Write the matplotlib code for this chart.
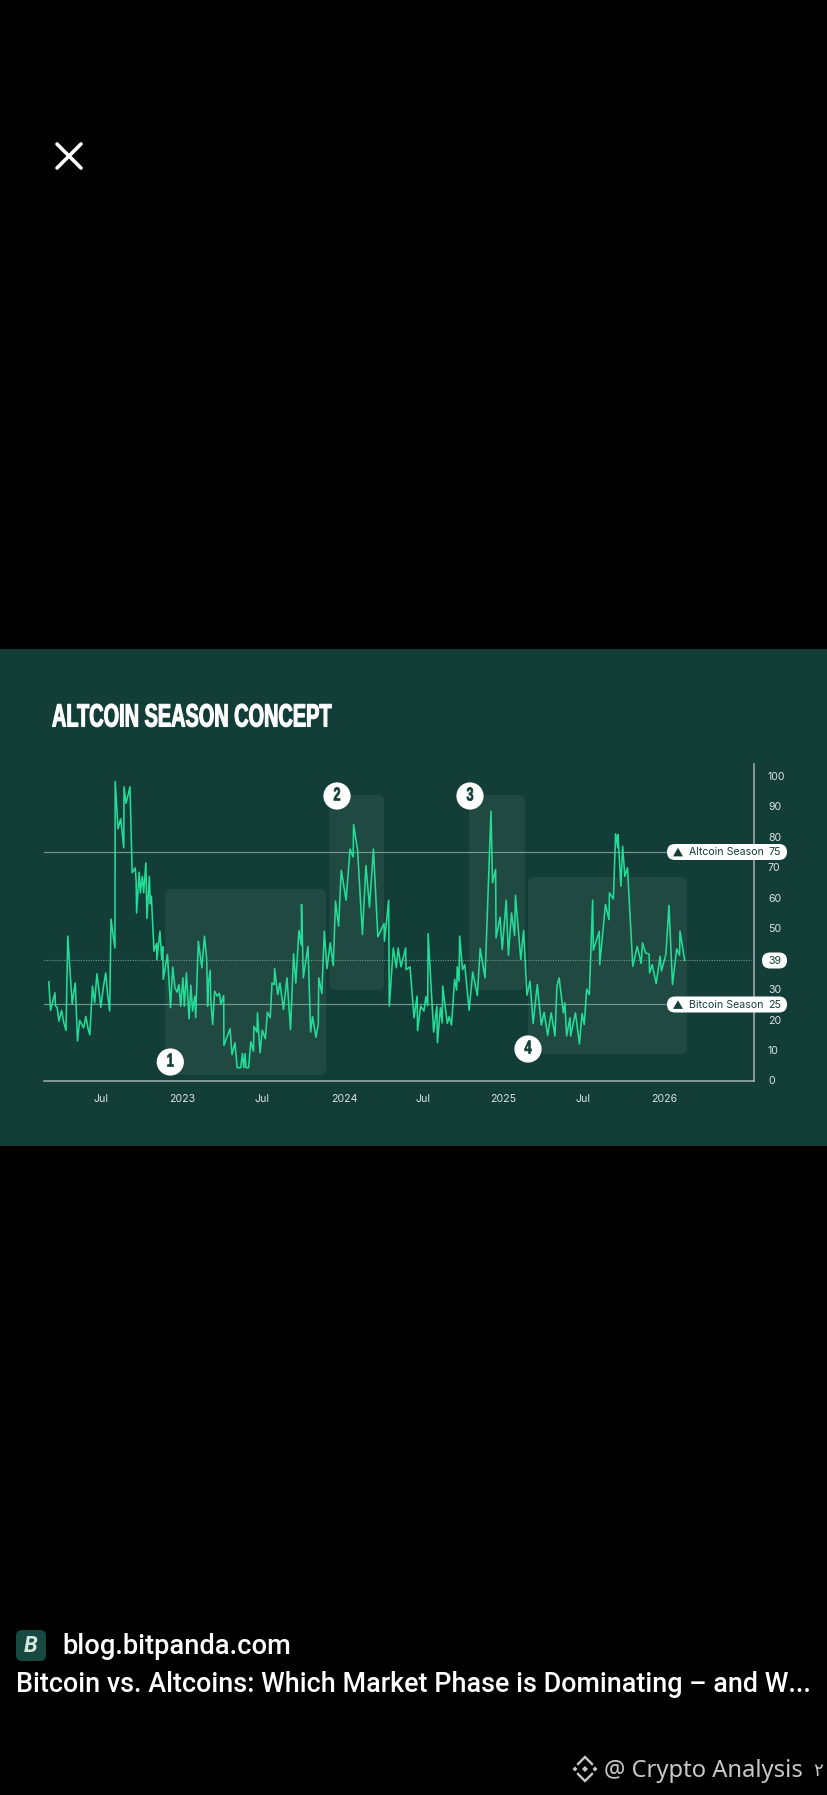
import matplotlib
matplotlib.use("Agg")
import matplotlib.pyplot as plt
import pandas as pd
from matplotlib.patches import FancyBboxPatch, Rectangle, Circle, Polygon
from matplotlib.patheffects import AbstractPathEffect
from matplotlib.transforms import Affine2D

# ---------- data ----------
obs_day = [
 -302,-298,-293,-288,-287,-283,-279,-273,-268,-263,
 -259,-254,-249,-246,-242,-237,-232,-227,-223,-218,
 -213,-209,-203,-198,-193,-189,-184,-179,-173,-169,
 -164,-161,-156,-152,-151.5,-145,-139,-132,-131.5,-127,
 -122,-118,-113,-106,-104,-103,-97,-94.5,-90,-87,
 -82,-79.5,-74,-72,-69.5,-63.5,-57.5,-57,-50,-46,
 -43.5,-42.5,-33,-26,-21,-16,-11,-7,-3,2,
 5.3,10,16,20,24,29,31,37,45,51,
 56,58,60,64,65,69.5,74,80,85,88,
 94.5,95,109,113.3,120,125,133,137,140,143,
 145,151,156,162,163,170,171,177,182,189,
 193.5,200,204,209,210,217,222,230,238,246,
 253,258,265,270.5,271,275,285.6,291.6,296,303.7,
 309,310,317,322.6,328.7,336,343,348,355,361,
 372,381,388,389,398,409,417,425,434,444,
 458,459,468.5,470,479,486,490,496.5,507,508,
 517,526,533,534,541,548.6,553,557,558,570.5,
 578,579,586,590,591,601.5,606,611,618,622.6,
 624,628,629.5,636,641,645,651,659,669.5,676,
 687,700.5,704,711,712,721,726,735,740,747,
 754,756,768,774.5,782,789,796,805.5,814.6,821,
 829,837,845.6,850,855,864.5,868,872,879.6,881,
 892,901,907,912,917.4,923.5,931,932.5,946,947,
 960,968,969,978,983,988,988.5,995,999,1004,
 1010,1022,1032,1041,1044,1051,1059,1060,1066,1075,
 1084,1087,1097,1104,1112,1121.5,1128,1129,1139.6,
]
altcoin_index = [
 32.4,23,26,28.8,24.5,24,19.5,23,19,16.4,
 47.4,36,25,28.5,32,13,19.7,18.4,17.3,21,
 17,15,31,25.5,35,30.4,24,30,35.3,28.8,
 22.8,53,47.5,43.5,98.2,82.6,85.9,76.4,96.4,91,
 93.9,96.4,68.2,69.8,65.4,55,68.4,61.6,67,61.6,
 71.4,53.2,67,58,60.5,42.5,45,39.7,49,39.7,
 43.9,33.2,41.4,23.9,37.2,30.4,29,31.5,24.4,33.7,
 24.4,35.3,20.2,31.3,22.8,27.7,20.6,45.7,37,47.4,
 39.7,24.4,32,36.2,26.6,18.4,29.3,27.7,28.6,25,
 27.9,11.5,17,8.5,12.4,4.2,4.2,8.9,4.2,8.8,
 4.2,4.2,12.7,9.6,17.8,15.9,22.2,9.1,16.5,13.7,
 22.4,20.6,32,31.5,36.7,28.2,32,23.3,33.7,16.7,
 41.6,32,49.2,44.5,57.8,33.7,44,15.9,21,14.2,
 18.5,33.7,28.6,49,36.7,45.2,37.7,58.9,50.7,69,
 59.2,76,73.4,84,75.8,47.9,70.6,56.9,76,47.2,
 51.5,45.7,59.2,24.4,43.5,37,43.5,37.3,43.5,36.4,
 37.3,20.6,27.7,16.4,24.4,22.8,27.5,24.6,48.2,15.9,
 24.4,12.4,23.9,18.9,31,18.7,21,18.2,33.2,29.7,
 37.3,32.6,47.4,36.4,38,32,23,35.6,27.9,43.3,
 33.7,88.4,64.9,69.3,46.8,53.6,43,59.2,41.1,55,
 47.6,60.8,39.7,49.2,28,32.6,18.7,31.5,18.2,22.4,
 14.8,22.2,14.6,31,33.7,22.2,25.5,14.6,20.6,14.6,
 22.2,12,22,18.4,30,28.2,59.2,42.8,49,38,
 57.8,52.8,61.6,59.6,81,76.4,80.7,63.8,76.9,67,
 69.8,37.5,44,38.4,45.2,41.9,41.5,35.3,38,31.8,
 40.8,36,41.4,57.5,31.5,43.2,41.1,49,39.45,
]
y_ticks = [0,10,20,30,40,50,60,70,80,90,100]
x_tick_dates = ["2022-07-02","2023-01-01","2023-07-01","2024-01-03","2024-07-01","2024-12-30","2025-06-29","2025-12-29"]
x_tick_labels = ["Jul","2023","Jul","2024","Jul","2025","Jul","2026"]
altcoin_level = 75
bitcoin_level = 25
current_level = 39.45
altcoin_label = "Altcoin Season"
bitcoin_label = "Bitcoin Season"
title_text = "ALTCOIN SEASON CONCEPT"

# ---------- style ----------
W, H = 828, 1795
BLACK = "#000000"
PANEL = "#123E37"
BOX = "#204942"
LINE = "#25DB98"
REF = "#76978E"
AXIS = "#A4B4AF"
TICK = "#DCE4E1"
DARK = "#143F38"
UI = ["Inter", "DejaVu Sans"]


class Condense(AbstractPathEffect):
    """Draw a real text object squeezed horizontally around an anchor, with a heavier outline."""

    def __init__(self, sx, anchor_x, stroke):
        super().__init__()
        self.sx, self.anchor_x, self.stroke = sx, anchor_x, stroke

    def draw_path(self, renderer, gc, tpath, affine, rgbFace=None):
        gc0 = renderer.new_gc()
        gc0.copy_properties(gc)
        gc0.set_linewidth(self.stroke)
        gc0.set_foreground(rgbFace)
        x0 = self.anchor_x
        squeeze = Affine2D().translate(-x0, 0).scale(self.sx, 1).translate(x0, 0)
        renderer.draw_path(gc0, tpath, affine + squeeze, rgbFace)
        gc0.restore()


fig = plt.figure(figsize=(W/100, H/100), dpi=100, facecolor=BLACK)

def px_axes(z):
    a = fig.add_axes([0, 0, 1, 1], zorder=z)
    a.set_xlim(0, W)
    a.set_ylim(H, 0)
    a.axis("off")
    a.patch.set_alpha(0)
    return a

back = px_axes(0)
back.add_patch(Rectangle((0, 649), W, 497, fc=PANEL, ec="none"))
for x0, x1, y0, y1 in [(165, 326, 889, 1075), (329.5, 384, 795, 990),
                       (469, 525, 795, 990), (528, 687, 877, 1054)]:
    back.add_patch(FancyBboxPatch((x0, y0), x1-x0, y1-y0,
                   boxstyle="round,pad=0,rounding_size=6", fc=BOX, ec="none"))

# ---------- chart ----------
ax_left, ax_right, ax_top, ax_bottom = 44, 754, 764, 1080.5
ax = fig.add_axes([ax_left/W, 1-ax_bottom/H, (ax_right-ax_left)/W, (ax_bottom-ax_top)/H], zorder=1)
ax.patch.set_alpha(0)
base = pd.Timestamp("2023-01-01")
dates = base + pd.to_timedelta(obs_day, unit="D")
ax.set_xlim(base + pd.to_timedelta(-312.9, unit="D"), base + pd.to_timedelta(1296.8, unit="D"))
ax.set_ylim(0, 103.9)
left_date = base + pd.to_timedelta(-312.9, unit="D")
end_line = base + pd.to_timedelta(1165, unit="D")
ax.plot([left_date, end_line], [altcoin_level]*2, color=REF, lw=0.85, zorder=2)
ax.plot([left_date, end_line], [bitcoin_level]*2, color=REF, lw=0.85, zorder=2)
ax.plot([left_date, base + pd.to_timedelta(1290, unit="D")], [current_level]*2,
        color=REF, lw=0.8, ls=(0, (1, 1.2)), zorder=2)
ax.plot(dates, altcoin_index, color=LINE, lw=1.15, solid_joinstyle="round", zorder=3)
for s in ["top", "left"]:
    ax.spines[s].set_visible(False)
for s in ["bottom", "right"]:
    ax.spines[s].set_color(AXIS)
    ax.spines[s].set_linewidth(1.1)
ax.yaxis.tick_right()
ax.set_yticks(y_ticks)
ax.set_yticklabels([str(v) for v in y_ticks], family=UI, fontsize=7.6, color=TICK)
ax.set_xticks(pd.to_datetime(x_tick_dates))
ax.set_xticklabels(x_tick_labels, family=UI, fontsize=7.6, color=TICK)
ax.tick_params(axis="both", length=0)
ax.tick_params(axis="y", pad=10)
ax.tick_params(axis="x", pad=9.5)

# ---------- overlay ----------
top = px_axes(2)
t = top.text(52, 718.5, title_text, family="Liberation Sans", weight="bold",
             fontsize=23.2, color="white", va="center", ha="left")
t.set_path_effects([Condense(0.618, 52, 0.8)])

def pill(x0, x1, yc, h=16):
    top.add_patch(FancyBboxPatch((x0, yc-h/2), x1-x0, h,
                  boxstyle=f"round,pad=0,rounding_size={h/2}", fc="white", ec="none"))

for yc, lab, val in [(852, altcoin_label, altcoin_level), (1004.5, bitcoin_label, bitcoin_level)]:
    pill(667, 787, yc)
    top.add_patch(Polygon([(673, yc+4.4), (683, yc+4.4), (678, yc-4.2)], fc=DARK, ec="none"))
    top.text(689, yc, lab, family=UI, fontsize=7.6, color=DARK, va="center", ha="left")
    top.text(775, yc, str(val), family=UI, fontsize=7.6, color=DARK, va="center", ha="center")
pill(762, 787, 960.5)
top.text(774.5, 960.5, str(round(current_level)), family=UI, fontsize=7.6, color=DARK, va="center", ha="center")

for cx, cy, n in [(170.3, 1062, "1"), (337, 796, "2"), (470, 796, "3"), (528, 1049, "4")]:
    top.add_patch(Circle((cx, cy), 13.6, fc="white", ec="none"))
    d = top.text(cx, cy, n, family="Liberation Sans", weight="bold",
                 fontsize=13.5, color=DARK, va="center", ha="center")
    d.set_path_effects([Condense(0.68, cx, 0.5)])

# close icon
for xs, ys in [((57, 81), (144, 168)), ((57, 81), (168, 144))]:
    top.plot(xs, ys, color="white", lw=2.6, solid_capstyle="round")

# footer
top.add_patch(FancyBboxPatch((16, 1630), 30, 31, boxstyle="round,pad=0,rounding_size=6", fc="#164A40", ec="none"))
top.text(31, 1646, "B", family=["Roboto", "DejaVu Sans"], weight="bold", style="italic", fontsize=16,
         color="#D5E5E0", va="center", ha="center")
top.text(62, 1647, "blog.bitpanda.com", family=["Roboto", "DejaVu Sans"], weight="medium", fontsize=19.6,
         color="white", va="center", ha="left")
top.text(16, 1685, "Bitcoin vs. Altcoins: Which Market Phase is Dominating \u2013 and W...",
         family=["Roboto", "DejaVu Sans"], weight="medium", fontsize=19.35, color="white", va="center", ha="left")
GREY = "#C8C8C8"
top.text(604, 1771, "@ Crypto Analysis", family=["Noto Sans", "DejaVu Sans"], fontsize=17.1,
         color=GREY, va="center", ha="left")
top.text(823, 1771, "\u0662", family=["DejaVu Sans"], fontsize=13,
         color=GREY, va="center", ha="right")
lx, ly = 585, 1769
top.add_patch(Polygon([(lx-3, ly), (lx, ly-3), (lx+3, ly), (lx, ly+3)], fc=GREY, ec="none"))
for dx, dy in [(-10, 0), (10, 0)]:
    top.add_patch(Polygon([(lx+dx-2.5, ly), (lx+dx, ly-2.5), (lx+dx+2.5, ly), (lx+dx, ly+2.5)], fc=GREY, ec="none"))
for sy in (-1, 1):
    top.plot([lx-7, lx, lx+7], [ly+sy*5, ly+sy*12, ly+sy*5], color=GREY, lw=1.7, solid_joinstyle="miter")

fig.savefig("out.png", dpi=100, facecolor=BLACK)
